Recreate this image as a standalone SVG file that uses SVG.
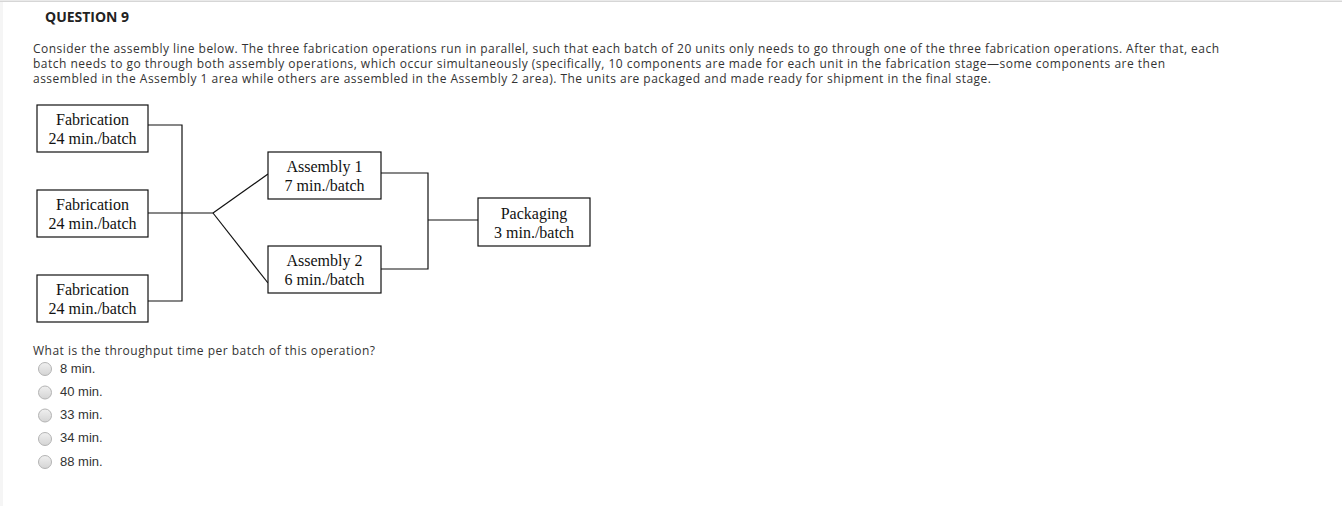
<svg xmlns="http://www.w3.org/2000/svg" width="1342" height="506" viewBox="0 0 1342 506">
<style>
.hdr{font-family:"Open Sans","Liberation Sans",sans-serif;font-weight:bold;font-size:14px;fill:#222}
.p{font-family:"Open Sans","Liberation Sans",sans-serif;font-size:12px;fill:#333}
.opt{font-family:"Liberation Sans",Arial,sans-serif;font-size:13px;fill:#333}
.box{fill:#fff;stroke:#111;stroke-width:1.2}
.lbl{font-family:"Liberation Serif","Times New Roman",serif;font-size:16px;fill:#111;text-anchor:middle}
.conn{fill:none;stroke:#111;stroke-width:1.2}
.radio{fill:url(#rg);stroke:#b4b4b4;stroke-width:1}
</style>
<defs>
<linearGradient id="rg" x1="0" y1="0" x2="0" y2="1">
<stop offset="0" stop-color="#f0f0f0"/>
<stop offset="1" stop-color="#d4d4d4"/>
</linearGradient>
</defs>
<rect x="0" y="0" width="1342" height="506" fill="#fff"/>
<rect x="0" y="2" width="3" height="504" fill="#f5f5f5"/>
<rect x="0" y="0.5" width="1342" height="1.5" fill="#d6d6d6"/>

<text class="hdr" x="45" y="22" textLength="84">QUESTION 9</text>
<text class="p" x="33" y="53" textLength="1186">Consider the assembly line below. The three fabrication operations run in parallel, such that each batch of 20 units only needs to go through one of the three fabrication operations. After that, each</text>
<text class="p" x="33" y="68" textLength="1132">batch needs to go through both assembly operations, which occur simultaneously (specifically, 10 components are made for each unit in the fabrication stage—some components are then</text>
<text class="p" x="33" y="83" textLength="958">assembled in the Assembly 1 area while others are assembled in the Assembly 2 area). The units are packaged and made ready for shipment in the final stage.</text>

<g id="connectors">
<path class="conn" d="M148,125 H182 V301 H148"/>
<path class="conn" d="M148,213 H213"/>
<path class="conn" d="M213,213 L268,174"/>
<path class="conn" d="M213,213 L268,283"/>
<path class="conn" d="M381,173 H428 V269 H381"/>
<path class="conn" d="M428,220 H478"/>
</g>

<g id="fab1"><rect class="box" x="37" y="105" width="111" height="47"/><text class="lbl" x="92.5" y="125">Fabrication</text><text class="lbl" x="92.5" y="144">24 min./batch</text></g>
<g id="fab2"><rect class="box" x="37" y="190" width="111" height="47"/><text class="lbl" x="92.5" y="210">Fabrication</text><text class="lbl" x="92.5" y="229">24 min./batch</text></g>
<g id="fab3"><rect class="box" x="37" y="275" width="111" height="47"/><text class="lbl" x="92.5" y="295">Fabrication</text><text class="lbl" x="92.5" y="314">24 min./batch</text></g>
<g id="asm1"><rect class="box" x="268" y="152" width="113" height="47"/><text class="lbl" x="324.5" y="172">Assembly 1</text><text class="lbl" x="324.5" y="191">7 min./batch</text></g>
<g id="asm2"><rect class="box" x="268" y="246" width="113" height="47"/><text class="lbl" x="324.5" y="266">Assembly 2</text><text class="lbl" x="324.5" y="285">6 min./batch</text></g>
<g id="pack"><rect class="box" x="478" y="198" width="112" height="48"/><text class="lbl" x="534" y="219">Packaging</text><text class="lbl" x="534" y="238">3 min./batch</text></g>

<text class="p" x="33" y="355" textLength="342">What is the throughput time per batch of this operation?</text>
<g id="options">
<circle class="radio" cx="45" cy="369" r="6.5"/><text class="opt" x="60" y="373">8 min.</text>
<circle class="radio" cx="45" cy="392.5" r="6.5"/><text class="opt" x="60" y="396">40 min.</text>
<circle class="radio" cx="45" cy="415.5" r="6.5"/><text class="opt" x="60" y="419">33 min.</text>
<circle class="radio" cx="45" cy="439" r="6.5"/><text class="opt" x="60" y="442">34 min.</text>
<circle class="radio" cx="45" cy="462" r="6.5"/><text class="opt" x="60" y="466">88 min.</text>
</g>
</svg>
